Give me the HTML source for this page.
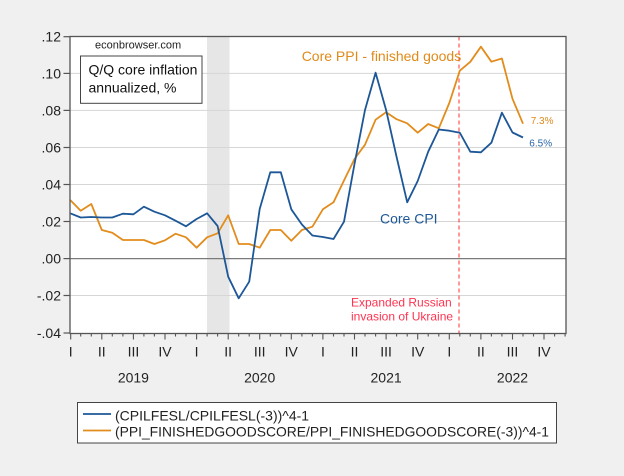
<!DOCTYPE html>
<html><head><meta charset="utf-8"><style>
html,body{margin:0;padding:0;background:#f0f0f0;}
svg{display:block;font-family:"Liberation Sans",Arial,sans-serif;}
</style></head><body>
<svg width="624" height="476" viewBox="0 0 624 476" xmlns="http://www.w3.org/2000/svg">
<rect x="0" y="0" width="624" height="476" fill="#f0f0f0"/>
<!-- plot area -->
<rect x="70" y="36.5" width="496" height="297" fill="#ffffff"/>
<!-- recession shade -->
<rect x="207" y="36.5" width="22.5" height="297" fill="#e6e6e6"/>
<!-- gridlines -->
<g stroke="#d6d6d6" stroke-width="1">
<line x1="70" y1="73.4" x2="566" y2="73.4"/>
<line x1="70" y1="110.4" x2="566" y2="110.4"/>
<line x1="70" y1="147.5" x2="566" y2="147.5"/>
<line x1="70" y1="184.5" x2="566" y2="184.5"/>
<line x1="70" y1="221.5" x2="566" y2="221.5"/>
<line x1="70" y1="295.5" x2="566" y2="295.5"/>
</g>
<line x1="70" y1="258.6" x2="566" y2="258.6" stroke="#7a7a7a" stroke-width="1.3"/>
<!-- red dashed line -->
<line x1="459" y1="36.5" x2="459" y2="333.5" stroke="#ff3030" stroke-width="1" stroke-dasharray="4,3" shape-rendering="crispEdges"/>
<!-- series -->
<polyline fill="none" stroke="#e28c1c" stroke-width="1.8" stroke-linejoin="round" points="70.2,200 80.7,210.7 91.3,204 101.8,230 112.3,232.7 122.9,240 133.4,240 143.9,240 154.4,244 165,240.3 175.5,233.7 186,237.3 196.6,247.7 207.1,237.3 217.6,233.3 228.2,215.3 238.7,244 249.2,244 259.7,247.7 270.3,230 280.8,230 291.3,240.7 301.9,230 312.4,226.7 322.9,209.3 333.5,202.3 344,180.5 354.5,159 365,144.7 375.6,119.7 386.1,112.2 396.6,119.2 407.2,123.3 417.7,132.7 428.2,124 438.8,128.3 449.3,103 459.8,70.7 470.3,61.8 480.9,46.7 491.4,61.7 501.9,58.5 512.5,98.8 523,123.7"/>
<polyline fill="none" stroke="#1d5797" stroke-width="1.8" stroke-linejoin="round" points="70.2,213.3 80.7,217.5 91.3,217 101.8,217.5 112.3,217.5 122.9,213.7 133.4,214.3 143.9,206.7 154.4,211.7 165,215.3 175.5,220.7 186,226.3 196.6,219 207.1,213.3 217.6,226 228.2,276.7 238.7,298.3 249.2,281.7 259.7,209 270.3,172.3 280.8,172.3 291.3,209.3 301.9,224.5 312.4,235.5 322.9,237 333.5,239 344,221.7 354.5,164 365,110 375.6,72.7 386.1,110 396.6,157 407.2,202.3 417.7,181 428.2,151.7 438.8,129.5 449.3,130.7 459.8,132.7 470.3,151.7 480.9,152.3 491.4,142.7 501.9,112.7 512.5,132.5 523,137.5"/>
<!-- frame -->
<rect x="70" y="36.5" width="496" height="297" fill="none" stroke="#555555" stroke-width="1.3"/>
<!-- y ticks -->
<g stroke="#555555" stroke-width="1.2">
<line x1="63.5" y1="36.7" x2="70" y2="36.7"/>
<line x1="63.5" y1="73.4" x2="70" y2="73.4"/>
<line x1="63.5" y1="110.4" x2="70" y2="110.4"/>
<line x1="63.5" y1="147.5" x2="70" y2="147.5"/>
<line x1="63.5" y1="184.5" x2="70" y2="184.5"/>
<line x1="63.5" y1="221.5" x2="70" y2="221.5"/>
<line x1="63.5" y1="258.6" x2="70" y2="258.6"/>
<line x1="63.5" y1="295.5" x2="70" y2="295.5"/>
<line x1="63.5" y1="333" x2="70" y2="333"/>
</g>
<!-- x ticks -->
<g stroke="#555555" stroke-width="1.1">
<path d="M80.7,333.5v3M91.3,333.5v3M112.3,333.5v3M122.9,333.5v3M143.9,333.5v3M154.4,333.5v3M175.5,333.5v3M186,333.5v3M207.1,333.5v3M217.6,333.5v3M238.7,333.5v3M249.2,333.5v3M270.3,333.5v3M280.8,333.5v3M301.9,333.5v3M312.4,333.5v3M333.5,333.5v3M344,333.5v3M365,333.5v3M375.6,333.5v3M396.6,333.5v3M407.2,333.5v3M428.2,333.5v3M438.8,333.5v3M459.8,333.5v3M470.3,333.5v3M491.4,333.5v3M501.9,333.5v3M523,333.5v3M533.5,333.5v3M554.6,333.5v3M565.1,333.5v3"/>
<path d="M70.7,333.5v6M101.8,333.5v6M133.4,333.5v6M165,333.5v6M196.6,333.5v6M228.2,333.5v6M259.7,333.5v6M291.3,333.5v6M322.9,333.5v6M354.5,333.5v6M386.1,333.5v6M417.7,333.5v6M449.3,333.5v6M480.9,333.5v6M512.5,333.5v6M544,333.5v6"/>
</g>
<!-- y labels -->
<g font-size="14" fill="#222" text-anchor="end">
<text x="61" y="41.7">.12</text>
<text x="61" y="78.4">.10</text>
<text x="61" y="115.4">.08</text>
<text x="61" y="152.5">.06</text>
<text x="61" y="189.5">.04</text>
<text x="61" y="226.5">.02</text>
<text x="61" y="263.6">.00</text>
<text x="61" y="300.5">-.02</text>
<text x="61" y="338">-.04</text>
</g>
<!-- x labels -->
<g font-size="14" fill="#222" text-anchor="middle">
<text x="70.7" y="356.7">I</text>
<text x="101.8" y="356.7">II</text>
<text x="133.4" y="356.7">III</text>
<text x="165" y="356.7">IV</text>
<text x="196.6" y="356.7">I</text>
<text x="228.2" y="356.7">II</text>
<text x="259.7" y="356.7">III</text>
<text x="291.3" y="356.7">IV</text>
<text x="322.9" y="356.7">I</text>
<text x="354.5" y="356.7">II</text>
<text x="386.1" y="356.7">III</text>
<text x="417.7" y="356.7">IV</text>
<text x="449.3" y="356.7">I</text>
<text x="480.9" y="356.7">II</text>
<text x="512.5" y="356.7">III</text>
<text x="544" y="356.7">IV</text>
<text x="133.4" y="382.7">2019</text>
<text x="259.7" y="382.7">2020</text>
<text x="386.1" y="382.7">2021</text>
<text x="512.5" y="382.7">2022</text>
</g>
<!-- annotations -->
<text x="95" y="48.5" font-size="11" fill="#222">econbrowser.com</text>
<rect x="80.5" y="56" width="121.5" height="47.3" fill="#ffffff" stroke="#444" stroke-width="1"/>
<text x="88.5" y="74.7" font-size="14" fill="#111">Q/Q core inflation</text>
<text x="88.5" y="92.7" font-size="14" fill="#111">annualized, %</text>
<text x="301.7" y="61" font-size="14" fill="#e08a1a">Core PPI - finished goods</text>
<text x="380" y="223.3" font-size="14" fill="#1d5797">Core CPI</text>
<text x="530.7" y="124" font-size="10" fill="#e08a1a">7.3%</text>
<text x="529.3" y="146.7" font-size="10" fill="#2a64a8">6.5%</text>
<text x="351" y="306.5" font-size="12" fill="#ff3350">Expanded Russian</text>
<text x="351" y="320.7" font-size="12" fill="#ff3350">invasion of Ukraine</text>
<!-- legend -->
<rect x="77.5" y="402.5" width="479" height="40.5" fill="#ffffff" stroke="#444" stroke-width="1"/>
<line x1="83" y1="414" x2="111" y2="414" stroke="#1d5797" stroke-width="1.8"/>
<line x1="83" y1="430.5" x2="111" y2="430.5" stroke="#e28c1c" stroke-width="1.8"/>
<text x="115" y="420.5" font-size="14" fill="#222">(CPILFESL/CPILFESL(-3))^4-1</text>
<text x="115" y="436.3" font-size="14" fill="#222" textLength="434" lengthAdjust="spacingAndGlyphs">(PPI_FINISHEDGOODSCORE/PPI_FINISHEDGOODSCORE(-3))^4-1</text>
</svg>
</body></html>
